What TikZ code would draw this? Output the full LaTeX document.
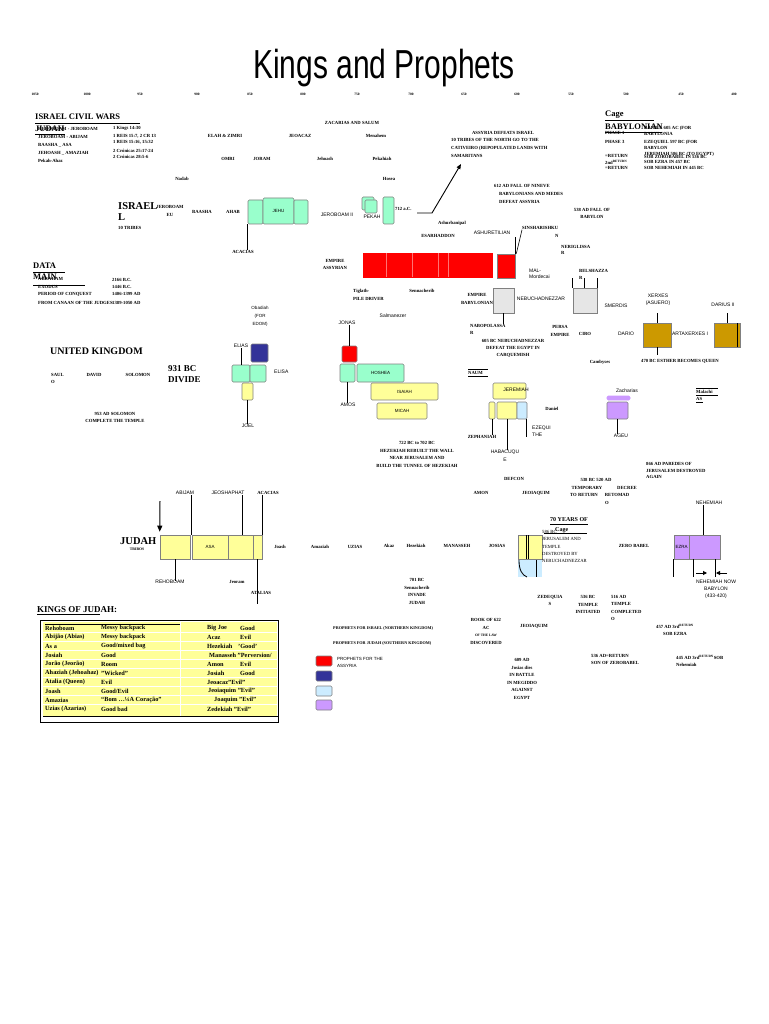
\documentclass[tikz,border=0pt]{standalone}
\usepackage{fontspec}
\setmainfont{Liberation Serif}
\setsansfont{Liberation Sans}
\usetikzlibrary{arrows.meta}
\definecolor{grn}{RGB}{153,255,204}
\definecolor{yel}{RGB}{255,255,153}
\definecolor{nav}{RGB}{51,51,153}
\definecolor{lbl}{RGB}{204,236,255}
\definecolor{pur}{RGB}{204,153,255}
\definecolor{gld}{RGB}{204,153,0}
\definecolor{gry}{RGB}{230,230,230}
\definecolor{redA}{RGB}{255,0,0}
\newcommand\boxat[8][]{\node[box,#1,fill=#3,minimum width={#6-#4},minimum height={#7-#5}] (#2) at ({(#4+#6)/2},{(#5+#7)/2}) {#8};}
\tikzset{
 T/.style={font=\bfseries\fontsize{4.7}{7.5}\selectfont, inner sep=0pt, align=center},
 TL/.style={T, anchor=west, align=left},
 S/.style={font=\sffamily\fontsize{5}{7.5}\selectfont, inner sep=0pt, align=center},
 SL/.style={S, anchor=west, align=left},
 yr/.style={font=\bfseries\fontsize{3.5}{4}\selectfont, inner sep=0pt},
 H/.style={font=\bfseries\fontsize{8.5}{10}\selectfont, inner sep=0pt, anchor=west, align=left},
 box/.style={draw=black!50, line width=0.6pt, rounded corners=1.2pt, inner sep=0pt, font=\sffamily\fontsize{4.5}{5}\selectfont},
 tb/.style={font=\bfseries\fontsize{6.3}{7}\selectfont, inner sep=0pt, anchor=west},
 ln/.style={line width=0.6pt},
}
\begin{document}
\begin{tikzpicture}[x=1pt,y=-1pt]
\path[use as bounding box, fill=white] (0,0) rectangle (768,1024);
\node[font=\sffamily\fontsize{30}{30}\selectfont, inner sep=0pt] (title) at (384,68) {\scalebox{1}[1.35]{Kings and Prophets}};
\foreach \v/\x in {1050/35,1000/87,950/140,900/197,850/250,800/303,750/357,700/411,650/464,600/517,550/571,500/626,450/681,400/734}
  \node[yr] (y\v) at (\x,94) {\v};
% top left
\node[H] (icw) at (35,117) {ISRAEL CIVIL WARS};
\draw[ln] (35,123) -- (140,123);
\node[TL] (c1) at (38,129) {REHOBOAM - JEROBOAM};
\node[H] (jdh) at (35,129) {JUDAH};
\draw[ln] (35,134) -- (65,134);
\node[TL] (c2) at (38,137) {JEROBOAM - ABIJAM};
\node[TL] (c3) at (38,145) {BAASHA \_ ASA};
\node[TL] (c4) at (38,153) {JEHOASH \_ AMAZIAH};
\node[TL] (c5) at (38,161) {Pekah-Ahaz};
\node[TL] (r1) at (113,128) {1 Kings 14:30};
\node[TL] (r2) at (113,136) {1 REIS 15:7, 2 CR 13};
\node[TL] (r3) at (113,142) {1 REIS 15:16, 15:32};
\node[TL] (r4) at (113,151) {2 Crónicas 25:17-24};
\node[TL] (r5) at (113,157) {2 Crónicas 28:5-6};
\node[T] (elah) at (225,136) {ELAH \& ZIMRI};
\node[T] (jeoacaz) at (300,136) {JEOACAZ};
\node[T] (menah) at (376,136) {Menahem};
\node[T] (zac) at (352,123) {ZACARIAS AND SALUM};
\node[T] (omri) at (228,159) {OMRI};
\node[T] (joram) at (262,159) {JORAM};
\node[T] (jehoash) at (325,159) {Jehoash};
\node[T] (pekahiah) at (382,159) {Pekahiah};
\node[T] (nadab) at (182,179) {Nadab};
\node[T] (hosea) at (389,179) {Hosea};
% Assyria defeats Israel
\node[T] (asd) at (503,133) {ASSYRIA DEFEATS ISRAEL};
\node[TL] (trb) at (451,140) {10 TRIBES OF THE NORTH GO TO THE};
\node[TL] (cat) at (451,148) {CATIVEIRO (REPOPULATED LANDS WITH};
\node[TL] (sam) at (451,156) {SAMARITANS};
\node[TL] (fn1) at (494,186) {612 AD FALL OF NINEVE};
\node[TL] (fn2) at (499,194) {BABYLONIANS AND MEDES};
\node[TL] (fn3) at (499,202) {DEFEAT ASSYRIA};
% Cage / Babylonian
\node[H] (cage) at (605,115) {Cage};
\draw[ln] (605,120) -- (654,120);
\node[TL] (ph1) at (605,133) {PHASE 1};
\node[TL] (dan) at (644,128) {DANIEL 605 AC (FOR};
\node[TL] (ba) at (644,134) {BABYLONIA};
\node[H] (bab) at (605,127) {BABYLONIAN};
\draw[ln] (605,132) -- (662,132);
\node[TL] (ph3) at (605,142) {PHASE 3};
\node[TL] (eze) at (644,142) {EZEQUIEL 597 BC (FOR};
\node[TL] (bn) at (644,148) {BABYLON};
\node[TL] (ret1) at (605,156) {=RETURN};
\node[TL] (jer) at (644,154) {JEREMIAH 586 BC (TO EGYPT)};
\node[TL] (zor) at (644,157) {SOB ZOROBABEL IN 536 BC};
\node[TL] (ret2) at (605,162) {2nd\textsuperscript{RETURN}};
\node[TL] (ezr) at (644,162) {SOB EZRA IN 457 BC};
\node[TL] (ret3) at (605,168) {=RETURN};
\node[TL] (nehs) at (644,168) {SOB NEHEMIAH IN 445 BC};
% Israel row
\node[H, font=\bfseries\fontsize{10.5}{11}\selectfont] (isr) at (118,206) {ISRAEL};
\node[H, font=\bfseries\fontsize{10.5}{11}\selectfont] (isl) at (118,217) {L};
\node[TL] (tri) at (118,228) {10 TRIBES};
\node[T] (jer2) at (170,211) {JEROBOAM\\EU};
\node[T] (baasha) at (202,212) {BAASHA};
\node[T] (ahab) at (233,212) {AHAB};
\boxat{ga}{grn}{248}{200}{263}{224}{}
\boxat{jehu}{grn}{263}{198}{294}{224}{JEHU}
\boxat{gc}{grn}{294}{200}{308}{224}{}
\node[S] (jb2) at (337,215) {JEROBOAM II};
\boxat{pk1}{grn}{362}{197}{374}{210}{}
\boxat{pk2}{grn}{365}{200}{377}{213}{}
\node[S] (pekah) at (372,217) {PEKAH};
\boxat{pk3}{grn}{383}{197}{394}{224}{}
\node[TL] (a712) at (395,209) {712 a.C.};
\coordinate (ar1) at (417,213);
\coordinate (ar2) at (461,164);
\draw[line width=0.9pt, -{Triangle[length=5pt,width=4pt]}] (ar1) -- ++(15,0) -- (ar2);
\node[T] (acac1) at (243,252) {ACACIAS};
\draw[ln] (ga.south west) -- (ga.south west |- acac1.north);
% Assyria
\node[T] (ashb) at (452,223) {Ashurbanipal};
\node[T] (esar) at (438,236) {ESARHADDON};
\node[S] (ashe) at (492,233) {ASHURETILIAN};
\boxat[sharp corners, draw=redA]{assy}{redA}{363}{253}{492}{277}{}
\foreach \dx in {386,412,438,448} \draw[white!45!red, line width=0.5pt] (\dx,253) -- (\dx,277);
\boxat[sharp corners]{rb2}{redA}{497}{254}{515}{278}{}
\node[TL] (sinsh) at (522,228) {SINSHARISHKU};
\node[TL] (sinn) at (555,236) {N};
\draw[ln] (rb2.north east) -- ++(0,-17);
\draw[ln] ([xshift=1pt]rb2.north east) -- (sinsh.south west);
\node[T] (fb) at (592,213.5) {538 AD FALL OF\\BABYLON};
\node[TL] (ner) at (561,247) {NERIGLISSA};
\node[TL] (nerr) at (561,253) {R};
\node[T, font=\bfseries\fontsize{4.7}{7}\selectfont] (emp1) at (335,264.5) {EMPIRE\\ASSYRIAN};
\node[SL, font=\sffamily\fontsize{5}{6}\selectfont] (mal) at (529,274) {MAL-\\Mordecai};
\node[TL, font=\bfseries\fontsize{4.7}{7}\selectfont] (bel) at (579,274.5) {BELSHAZZA\\R};
\boxat[sharp corners]{gb2}{gry}{573}{288}{597}{313}{}
\draw[ln] (gb2.north west) -- ++(0,-10);
\draw[ln] (gb2.north east) -- ++(0,-10);
\draw[ln] ([xshift=-1pt]gb2.north) -- ++(0,-10);
\boxat[sharp corners]{gb1}{gry}{493}{288}{514}{313}{}
\node[TL] (nabo) at (470,329.5) {NABOPOLASSA\\R};
\draw[ln] (gb1.south) -- (gb1.south |- nabo.north);
\node[T, font=\bfseries\fontsize{4.7}{8}\selectfont] (empb) at (477,299) {EMPIRE\\BABYLONIAN};
\node[S] (nebu) at (541,299) {NEBUCHADNEZZAR};
\node[TL, font=\bfseries\fontsize{4.7}{8}\selectfont] (tig) at (353,295) {Tiglath-\\PILE DRIVER};
\node[T] (senn) at (422,291) {Sennacherib};
\node[S] (salm) at (393,316) {Salmanezer};
\node[S] (jonas) at (347,323) {JONAS};
\node[S, font=\sffamily\fontsize{4.5}{8}\selectfont] (obad) at (260,316) {Obadiah\\(FOR\\EDOM)};
\node[S] (smer) at (616,306) {SMERDIS};
\node[S, font=\sffamily\fontsize{5}{6.5}\selectfont] (xer) at (658,300) {XERXES\\(ASUERO)};
\node[S] (dar2) at (723,305) {DARIUS II};
\boxat[sharp corners]{au1}{gld}{643}{323}{671}{347}{}
\draw[ln] (au1.north) -- ++(0,-10);
\draw[ln] (au1.south) -- ++(0,8);
\boxat[sharp corners]{au2}{gld}{714}{323}{740}{347}{}
\draw[ln] (737,323) -- (737,347);
\draw[ln] (au2.north) -- ++(0,-10);
\node[T, font=\bfseries\fontsize{4.7}{8}\selectfont] (persa) at (560,331) {PERSA\\EMPIRE};
\node[T] (ciro) at (585,334) {CIRO};
\node[S] (dario) at (626,334) {DARIO};
\node[S] (artax) at (690,334) {ARTAXERXES I};
\node[T] (camb) at (600,362) {Cambyses};
\node[T] (esth) at (680,361) {470 BC ESTHER BECOMES QUEEN};
% Malachi, Zacharias
\node[TL] (mala) at (696,392) {Malachi};
\node[TL] (as) at (696,399) {AS};
\draw[ln] (696,388) -- (718,388);
\draw[ln] (696,395) -- (718,395);
\draw[ln] (696,402) -- (703,402);
\node[S] (zach) at (627,391) {Zacharias};
\boxat[draw=pur]{pbar}{pur}{607}{396}{630}{400}{}
\boxat{ageub}{pur}{607}{402}{628}{419}{}
\node[S] (ageu) at (621,436) {AGEU};
\draw[ln] (ageub.south) -- (ageub.south |- ageu.north);
\node[T] (daniel) at (552,409) {Daniel};
% Judah prophets cluster
\boxat{jerb}{yel}{493}{383}{526}{399}{}
\node[S] (jerl) at (516,390) {JEREMIAH};
\boxat{zeph}{yel}{489}{402}{495}{419}{}
\boxat{habb}{yel}{497}{402}{517}{419}{}
\boxat{ezeb}{lbl}{517}{402}{527}{419}{}
\node[T] (zephl) at (482,437) {ZEPHANIAH};
\draw[ln] (zeph.south) -- (zeph.south |- zephl.north);
\node[S] (hab) at (505,456) {HABACUQU\\E};
\draw[ln] (habb.south) -- (habb.south |- hab.north);
\node[SL] (ezq) at (532,431.5) {EZEQUI\\THE};
\draw[ln] ([xshift=-1pt]ezeb.south east) -- ++(0,18);
\node[TL] (naum) at (468,373) {NAUM};
\draw[ln] (naum.north west) ++(0,-1.5) -- ++(20,0);
\draw[ln] (naum.south west) ++(0,1.5) -- ++(20,0);
\node[T, font=\bfseries\fontsize{4.7}{7}\selectfont] (nb605) at (513,348) {605 BC NEBUCHADNEZZAR\\DEFEAT THE EGYPT IN\\CARQUEMISH};
\node[T, font=\bfseries\fontsize{4.7}{7.7}\selectfont] (hz) at (417,454.5) {722 BC to 702 BC\\HEZEKIAH REBUILT THE WALL\\NEAR JERUSALEM AND\\BUILD THE TUNNEL OF HEZEKIAH};
% United kingdom
\node[H, font=\bfseries\fontsize{10}{10}\selectfont] (uk) at (50,351) {UNITED KINGDOM};
\node[TL, font=\bfseries\fontsize{4.7}{7}\selectfont] (saul) at (51,378.5) {SAUL\\O};
\node[T] (david) at (94,375) {DAVID};
\node[T] (solo) at (138,375) {SOLOMON};
\node[H, font=\bfseries\fontsize{9}{11}\selectfont] (div) at (168,374.5) {931 BC\\DIVIDE};
\node[T, font=\bfseries\fontsize{4.7}{7}\selectfont] (s953) at (115,417.5) {953 AD SOLOMON\\COMPLETE THE TEMPLE};
% Elias, Elisa, Joel
\node[S] (elias) at (241,346) {ELIAS};
\boxat{eln}{nav}{251}{344}{268}{362}{}
\boxat{g1}{grn}{232}{365}{250}{382}{}
\boxat{g2}{grn}{250}{365}{266}{382}{}
\draw[ln] (elias.south) -- (elias.south |- g1.north);
\node[SL] (elisa) at (274,372) {ELISA};
\boxat{joelb}{yel}{242}{383}{253}{400}{}
\node[S] (joel) at (248,426) {JOEL};
\draw[ln] (joelb.south) -- (joelb.south |- joel.north);
\boxat{rjon}{redA}{342}{346}{357}{362}{}
\draw[ln] (rjon.north) -- (rjon.north |- jonas.south);
\boxat{amb}{grn}{340}{364}{355}{382}{}
\boxat{hosh}{grn}{357}{364}{404}{382}{HOSHEA}
\boxat{isa}{yel}{371}{383}{438}{400}{ISAIAH}
\boxat{mic}{yel}{377}{403}{427}{419}{MICAH}
\node[S] (amos) at (348,405) {AMOS};
\draw[ln] (amb.south) -- (amb.south |- amos.north);
% Data main
\node[TL] (abr) at (38,279) {ABRAHAM};
\node[H] (data) at (33,266) {DATA};
\draw[ln] (33,272) -- (65,272);
\node[H] (mainx) at (33,277) {MAIN};
\draw[ln] (33,285) -- (85,285);
\node[TL] (exo) at (38,287) {EXODUS};
\node[TL] (poc) at (38,294) {PERIOD OF CONQUEST};
\node[TL] (fcj) at (38,303) {FROM CANAAN OF THE JUDGES};
\node[TL] (d1) at (112,280) {2166 B.C.};
\node[TL] (d2) at (112,287) {1446 B.C.};
\node[TL] (d3) at (112,294) {1406-1399 AD};
\node[TL] (d4) at (112,303) {1389-1050 AD};
% Judah row
\node[S] (abij) at (185,493) {ABIJAM};
\node[S] (jeos) at (228,493) {JEOSHAPHAT};
\node[T] (acac2) at (268,493) {ACACIAS};
\boxat[sharp corners]{j1}{yel}{160}{535}{190}{559}{}
\boxat[sharp corners]{j2}{yel}{192}{535}{228}{559}{ASA}
\boxat[sharp corners]{j3}{yel}{228}{535}{253}{559}{}
\boxat[sharp corners]{j4}{yel}{253}{535}{262}{559}{}
\draw[ln] (j2.north west) -- (j2.north west |- abij.south);
\draw[ln] ([xshift=2pt]j3.north) -- ([xshift=2pt]j3.north |- jeos.south);
\draw[ln] (j4.north east) -- (j4.north east |- acac2.south);
\coordinate (ja) at (160,501);
\draw[line width=1pt, -{Triangle[length=6pt,width=5pt]}, shorten >=3pt] (ja) -- (j1.north west);
\node[H, font=\bfseries\fontsize{10.5}{11}\selectfont] (judah2) at (120,541) {JUDAH};
\node[T, font=\bfseries\fontsize{3.8}{4}\selectfont] (trib) at (137,549) {TRIBOS};
\node[S] (reho) at (170,582) {REHOBOAM};
\draw[ln] (j1.south) -- ([yshift=-1pt]j1.south |- reho.north);
\node[T] (jeor) at (237,582) {Jeoram};
\node[T] (atal) at (261,593) {ATALIAS};
\draw[ln] (j4.south) -- ([yshift=-13pt]j4.south |- atal.north);
\node[T] (joash) at (280,547) {Joash};
\node[T] (amaz) at (320,547) {Amaziah};
\node[T] (uzias) at (355,547) {UZIAS};
\node[T] (akaz) at (389,546) {Akaz};
\node[T] (hezk) at (416,546) {Hezekiah};
\node[T] (mana) at (457,546) {MANASSEH};
\node[T] (josias) at (497,546) {JOSIAS};
% 70 years
\boxat[sharp corners, draw=none]{y70c}{lbl}{518}{559}{542}{577}{}
\draw[ln] (536,559) -- (536,577);
\draw[line width=0.8pt] (519,560) .. controls (519,570) and (522,575) .. (527,577);
\boxat[sharp corners]{y70a}{yel}{518}{535}{542}{559}{}
\draw[line width=1pt] (526,535) -- (526,559);
\draw[line width=1pt] (528.5,535) -- (528.5,559);
\node[TL, font=\fontsize{4.7}{7.2}\selectfont] (j586) at (542,546.5) {586 BC\\JERUSALEM AND\\TEMPLE\\DESTROYED BY\\NEBUCHADNEZZAR};
\node[TL, font=\bfseries\fontsize{6}{6}\selectfont] (y70) at (550,520) {70 YEARS OF};
\draw[ln] (550,524) -- (588,524);
\node[TL, font=\bfseries\fontsize{6}{6}\selectfont] (cage2) at (555,530) {Cage};
\draw[ln] (544,533) -- (587,533);
\node[T] (zerob) at (634,546) {ZERO BABEL};
% Ezra / Nehemiah
\boxat[sharp corners]{ez1}{pur}{674}{535}{689}{559}{EZRA}
\boxat[sharp corners]{ez2}{pur}{689}{535}{720}{559}{}
\node[S] (nehl) at (709,503) {NEHEMIAH};
\draw[ln] ([xshift=-1.5pt]ez2.north) -- ([xshift=-1.5pt]ez2.north |- nehl.south);
\draw[ln] (ez1.south west) -- ++(0,18);
\draw[ln] ([xshift=5pt]ez2.south west) -- ++(0,18);
\draw[ln] ([xshift=-5pt]ez2.south east) -- ++(0,18);
\coordinate (ea1) at (696,573); \coordinate (ea2) at (707,573);
\coordinate (eb1) at (727,573); \coordinate (eb2) at (716,573);
\draw[line width=0.9pt, -{Triangle[length=4pt,width=4pt]}] (ea1) -- (ea2);
\draw[line width=0.9pt, -{Triangle[length=4pt,width=4pt]}] (eb1) -- (eb2);
\node[S, font=\sffamily\fontsize{5}{7}\selectfont] (nnow) at (716,589) {NEHEMIAH NOW\\BABYLON\\(433-420)};
\node[TL, font=\bfseries\fontsize{4.7}{6.5}\selectfont] (d866) at (646,470.5) {866 AD PAREDES OF\\JERUSALEM DESTROYED\\AGAIN};
\node[T] (defc) at (514,479) {DEFCON};
\node[T] (amon) at (481,493) {AMON};
\node[T] (jeoi) at (536,493) {JEOIAQUIM};
\node[T] (b538) at (596,480) {538 BC 520 AD};
\node[T] (temp) at (587,488) {TEMPORARY};
\node[T] (decr) at (627,488) {DECREE};
\node[T] (toret) at (584,495) {TO RETURN};
\node[T] (retom) at (617,495) {RETOMAD};
\node[T] (o1) at (607,503) {O};
% lower texts
\node[T, font=\bfseries\fontsize{4.7}{7.7}\selectfont] (b701) at (417,591.5) {701 BC\\Sennacherib\\INVADE\\JUDAH};
\node[T, font=\bfseries\fontsize{4.7}{7}\selectfont] (zed) at (550,600.5) {ZEDEQUIA\\S};
\node[T] (b536) at (588,604.5) {536 BC\\TEMPLE\\INITIATED};
\node[TL, font=\bfseries\fontsize{4.7}{7.3}\selectfont] (b516) at (611,608) {516 AD\\TEMPLE\\COMPLETED\\O};
\node[T, font=\bfseries\fontsize{4.7}{7.7}\selectfont] (book) at (486,631.5) {BOOK OF 622\\AC\\{\fontsize{3.5}{7.7}\selectfont OF THE LAW}\\DISCOVERED};
\node[T] (jeoi2) at (534,626) {JEOIAQUIM};
\node[T, font=\bfseries\fontsize{4.7}{7}\selectfont] (b457) at (675,629.5) {457 AD 3rd\textsuperscript{RETURN}\\SOB EZRA};
\node[TL, font=\bfseries\fontsize{4.2}{5}\selectfont] (pisr) at (333,628) {PROPHETS FOR ISRAEL (NORTHERN KINGDOM)};
\node[TL, font=\bfseries\fontsize{4.2}{5}\selectfont] (pjud) at (333,643) {PROPHETS FOR JUDAH (SOUTHERN KINGDOM)};
\boxat{lg1}{redA}{316}{656}{332}{666}{}
\boxat{lg2}{nav}{316}{671}{332}{681}{}
\boxat{lg3}{lbl}{316}{686}{332}{696}{}
\boxat{lg4}{pur}{316}{700}{332}{710}{}
\node[SL, font=\sffamily\fontsize{4.5}{7}\selectfont] (lgt) at (337,662.5) {PROPHETS FOR THE\\ASSYRIA};
\node[T, font=\bfseries\fontsize{4.7}{7.6}\selectfont] (b609) at (522,679) {609 AD\\Josias dies\\IN BATTLE\\IN MEGIDDO\\AGAINST\\EGYPT};
\node[TL, font=\bfseries\fontsize{4.7}{7}\selectfont] (b536r) at (591,659.5) {536 AD=RETURN\\SON OF ZEROBABEL};
\node[TL, font=\bfseries\fontsize{4.7}{7}\selectfont] (b445) at (676,660.5) {445 AD 3rd\textsuperscript{RETURN}SOB\\Nehemiah};
% Kings of Judah table
\node[H, font=\bfseries\fontsize{9}{9}\selectfont] (koj) at (37,610) {KINGS OF JUDAH:};
\draw[ln] (37,614.5) -- (100,614.5);
\node[draw, line width=1pt, fill=white, minimum width=238, minimum height=102, inner sep=0pt] (tbl) at (159,671) {};
\fill[yel] (43,622) rectangle (277,716);
\foreach \r in {1,...,9} \draw[white, line width=0.4pt] (43,{623.5+9*\r}) -- (277,{623.5+9*\r});
\draw[white, line width=0.6pt] (180,622) -- (180,716);
\draw[line width=0.9pt] (45,624) -- (180,624);
\draw[line width=1.3pt] (43,716.5) -- (278,716.5);
\foreach \i/\a/\b in {1/{Rehoboam}/{Messy backpack}, 2/{Abijão (Abias)}/{Messy backpack}, 3/{As a}/{Good{/}mixed bag}, 4/{Josiah}/{Good}, 5/{Jorão (Jeorão)}/{Room}, 6/{Ahaziah (Jehoahaz)}/{"Wicked"}, 7/{Atalia (Queen)}/{Evil}, 8/{Joash}/{Good{/}Evil}, 9/{Amazias}/{``Bom \ldots¼A Coração"}, 10/{Uzias (Azarias)}/{Good bad}}
{
  \node[tb] (ta\i) at (45,{628+9*(\i-1)}) {\a};
  \node[tb] (tb\i) at (101,{628+9*(\i-1)}) {\b};
}
\foreach \i/\x/\c in {1/207/{Big Joe}, 2/207/{Acaz}, 3/207/{Hezekiah}, 4/209/{Manasseh "Perversion{/}}, 5/207/{Amon}, 6/207/{Josiah}, 7/207/{Jeoacaz}, 8/208/{Jeoiaquim "Evil"}, 9/214/{Joaquim "Evil"}, 10/207/{Zedekiah "Evil"}}
  \node[tb] (tc\i) at (\x,{628+9*(\i-1)}) {\c};
\foreach \i/\x/\d in {1/240/{Good}, 2/240/{Evil}, 3/238/{'Good'}, 5/240/{Evil}, 6/240/{Good}, 7/228/{"Evil"}}
  \node[tb] (td\i) at (\x,{628+9*(\i-1)}) {\d};
\end{tikzpicture}
\end{document}
